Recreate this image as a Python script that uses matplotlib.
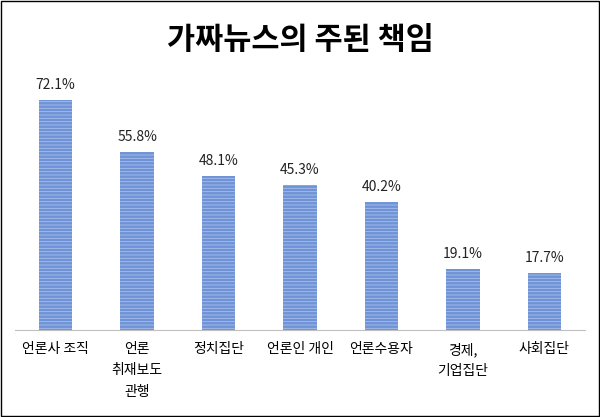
import matplotlib.pyplot as plt
from matplotlib.patches import Rectangle

plt.rcParams['font.family'] = ['Noto Sans CJK KR', 'DejaVu Sans']
plt.rcParams['hatch.color'] = '#a9c0ea'
plt.rcParams['hatch.linewidth'] = 0.6

categories = ['언론사 조직', '언론\n취재보도\n관행', '정치집단', '언론인 개인', '언론수용자', '경제,\n기업집단', '사회집단']
values = [72.1, 55.8, 48.1, 45.3, 40.2, 19.1, 17.7]

fig = plt.figure(figsize=(6, 4.17), dpi=100)
ax = fig.add_axes([0.025, 0.209, 0.95, 0.612])
x = range(len(categories))
ax.bar(x, values, width=0.41, color='#6f93d6', hatch='-----', edgecolor='#a9c0ea', linewidth=0)
for xi, v in zip(x, values):
    ax.text(xi, v + 2.5, f'{v}%', ha='center', va='bottom', fontsize=10, color='#222222')
ax.set_xlim(-0.5, len(categories) - 0.5)
ax.set_ylim(0, 80)
ax.set_yticks([])
ax.set_xticks(list(x))
ax.set_xticklabels(categories, fontsize=10, linespacing=1.65, va='top')
ax.tick_params(axis='x', length=0, pad=9)
for s in ['top', 'left', 'right']:
    ax.spines[s].set_visible(False)
ax.spines['bottom'].set_color('#bfbfbf')
fig.text(0.5, 0.905, '가짜뉴스의 주된 책임', ha='center', va='center', fontsize=22, fontweight='bold')
fig.patches.append(Rectangle((0.002, 0.002), 0.996, 0.996, transform=fig.transFigure, fill=False, edgecolor='black', linewidth=1))
fig.savefig('out.png', dpi=100)
